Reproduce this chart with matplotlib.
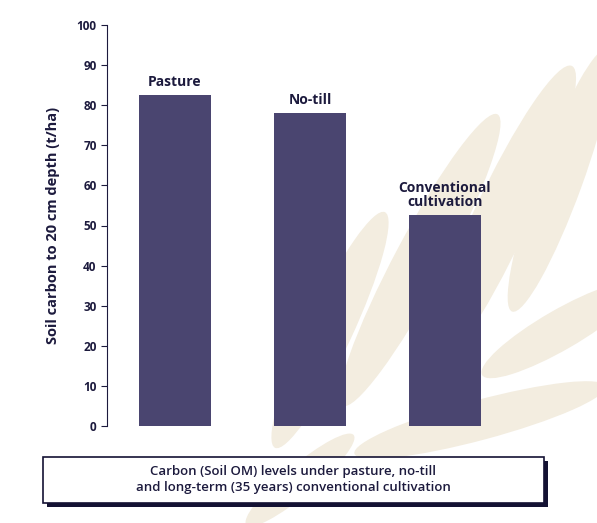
import numpy as np
import matplotlib.pyplot as plt
from matplotlib.patches import Rectangle, Ellipse

# data
categories = ['Pasture', 'No-till', 'Conventional\ncultivation']
soil_carbon = [82.5, 78.0, 52.5]
yticks = [0, 10, 20, 30, 40, 50, 60, 70, 80, 90, 100]

bar_color = '#4a4570'
text_color = '#1c1a3d'
leaf_color = '#f3ede0'

plt.rcParams['font.family'] = ['Open Sans', 'DejaVu Sans']

fig = plt.figure(figsize=(5.97, 5.23), dpi=100)

# faint leaf decoration in the background
bg = fig.add_axes([0, 0, 1, 1], zorder=0)
bg.set_xlim(0, 597)
bg.set_ylim(523, 0)
bg.axis('off')
for cx, cy, w, h, ang in [(330, 330, 45, 260, 25), (420, 260, 50, 330, 28),
                          (500, 220, 55, 340, 25), (560, 180, 45, 280, 20),
                          (480, 420, 40, 260, 75), (560, 330, 40, 180, 60),
                          (300, 480, 30, 140, 50)]:
    bg.add_patch(Ellipse((cx, cy), w, h, angle=ang, color=leaf_color, lw=0))

ax = fig.add_axes([107 / 597, 1 - 426 / 523, 405.5 / 597, 401 / 523], zorder=1)
ax.patch.set_alpha(0)
x = np.arange(len(categories))
bars = ax.bar(x, soil_carbon, width=0.533, color=bar_color)
for xi, v, lab in zip(x, soil_carbon, categories):
    ax.text(xi, v + 1.5, lab, ha='center', va='bottom', fontsize=10,
            fontweight='bold', color=text_color, linespacing=1.0)

ax.set_xlim(-0.504, 2.5)
ax.set_ylim(0, 100)
ax.set_yticks(yticks)
ax.set_xticks([])
for s in ['top', 'right', 'bottom']:
    ax.spines[s].set_visible(False)
ax.spines['left'].set_color(text_color)
ax.spines['left'].set_linewidth(0.8)
ax.tick_params(axis='y', colors=text_color, labelsize=8.5, length=4, width=0.8)
for t in ax.get_yticklabels():
    t.set_fontweight('bold')
ax.set_ylabel('Soil carbon to 20 cm depth (t/ha)', fontsize=10.5, fontweight='bold',
              color=text_color, labelpad=12)

# caption box with shadow
bg.add_patch(Rectangle((47, 461), 501, 46, color='#141233', lw=0, zorder=2))
bg.add_patch(Rectangle((43, 457), 501, 46, facecolor='white', edgecolor='#141233',
                       lw=1.2, zorder=3))
bg.text(293, 480, 'Carbon (Soil OM) levels under pasture, no-till\n'
        'and long-term (35 years) conventional cultivation',
        ha='center', va='center', fontsize=9.5, fontweight='semibold',
        color=text_color, zorder=4, linespacing=1.3)

fig.savefig('out.png', dpi=100)
